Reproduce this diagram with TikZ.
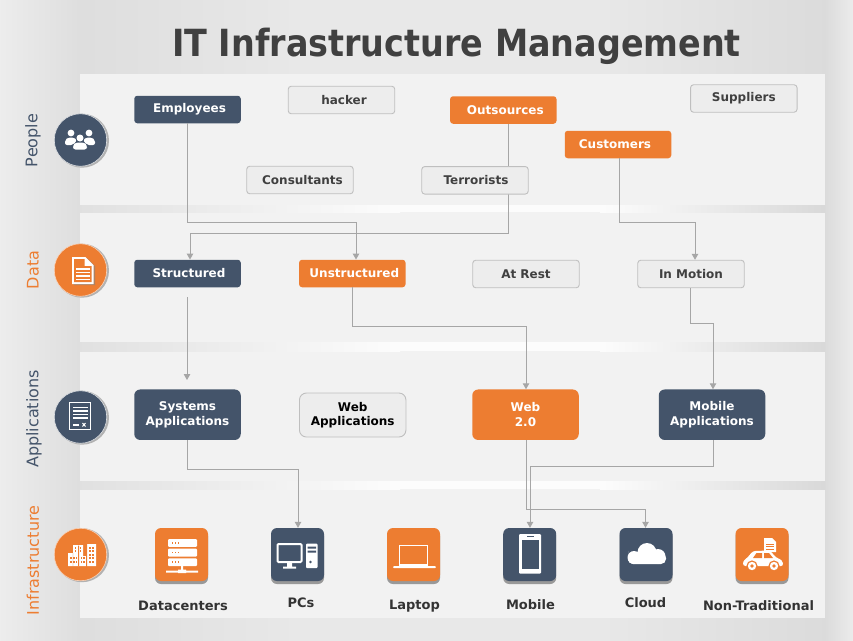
\documentclass[tikz,border=0pt]{standalone}
\usepackage{fontspec}
\setmainfont{DejaVu Sans}
\usetikzlibrary{arrows.meta}
\definecolor{navy}{HTML}{44546A}
\definecolor{tangerine}{HTML}{ED7D31}
\definecolor{panelgray}{HTML}{F2F2F2}
\definecolor{linkgray}{HTML}{A6A6A6}
\definecolor{inkgray}{HTML}{404040}
\tikzset{
  box/.style={rounded corners=3pt, minimum width=106.5pt, minimum height=27.5pt, inner sep=0pt, align=center, font=\fontsize{12}{14.5}\selectfont\bfseries},
  navybox/.style={box, fill=navy, text=white},
  orangebox/.style={box, fill=tangerine, text=white},
  graybox/.style={box, fill=white!93!black, draw=white!75!black, line width=0.9pt, text=inkgray},
  tall/.style={rounded corners=6pt, minimum height=50.5pt},
  badge/.style={circle, minimum size=52.5pt, inner sep=0pt},
  tile/.style={rounded corners=6pt, minimum size=53pt, inner sep=0pt},
  sidelabel/.style={rotate=90, font=\fontsize{16}{18}\selectfont},
  caption/.style={font=\fontsize{13}{15}\selectfont\bfseries, text=black!80},
  link/.style={draw=linkgray, line width=1pt},
  linkarrow/.style={link, -{Triangle[width=6.5pt,length=6pt]}},
  icon/.style={fill=white, draw=none},
  outline/.style={draw=white, fill=none, line width=1.6pt},
}
\begin{document}
\begin{tikzpicture}[x=1pt, y=-1pt]
  \useasboundingbox (0,0) rectangle (853,640);
  % page background, in strips
  \shade[left color=white!93!black, right color=white!87!black] (-3,-3) rectangle (80.5,643);
  \shade[left color=white!87!black, right color=white!91!black] (80,-3) rectangle (300.5,643);
  \fill[white!91!black] (300,-3) rectangle (600.5,643);
  \shade[left color=white!91!black, right color=white!86!black] (600,-3) rectangle (825.5,643);
  \shade[left color=white!86!black, right color=white!93!black] (825,-3) rectangle (856,643);
  % panels and the bands between them
  \foreach \ya/\yb in {74/205, 212/342, 351/481, 489/618}
    \fill[panelgray] (80,\ya) rectangle (825,\yb);
  \foreach \ya/\yb in {205/212, 342/351, 481/489} {
    \shade[left color=white!88!black, right color=white!99!black] (80,\ya) rectangle (400,\yb);
    \fill[white!99!black] (399,\ya) rectangle (601,\yb);
    \shade[left color=white!99!black, right color=white!85!black] (600,\ya) rectangle (825,\yb);
  }

  \node[font=\fontsize{33.4}{40}\selectfont\bfseries, text=inkgray] (title) at (456.5,46) {\scalebox{1}[1.12]{IT Infrastructure Management}};

  % side labels
  \node[sidelabel, text=navy] (peoplelabel) at (33,140.5) {People};
  \node[sidelabel, text=tangerine] (datalabel) at (33,270) {Data};
  \node[sidelabel, text=navy] (appslabel) at (34,419) {Applications};
  \node[sidelabel, text=tangerine] (infralabel) at (33,560.5) {Infrastructure};

  % round badges
  \foreach \yb in {140, 270, 417, 554.5}
    \fill[white!70!black] (82,\yb+0.7) circle (27pt);
  \node[badge, fill=navy, draw=white!80!navy, line width=0.6pt] (peoplebadge) at (80.5,140) {};
  \node[badge, fill=tangerine, draw=white!65!tangerine, line width=0.6pt] (databadge) at (80.5,270) {};
  \node[badge, fill=navy, draw=white!80!navy, line width=0.6pt] (appsbadge) at (80.5,417) {};
  \node[badge, fill=tangerine, draw=white!65!tangerine, line width=0.6pt] (infrabadge) at (80.5,554.5) {};

  % people icon
  \fill[icon] (71,133) circle (3.4pt) (89,133) circle (3.4pt);
  \fill[icon, rounded corners=2pt] (65,145) -- (65,140) -- (68,137.5) -- (74,137.5) -- (77,140) -- (73,145) -- cycle;
  \fill[icon, rounded corners=2pt] (95,145) -- (95,140) -- (92,137.5) -- (86,137.5) -- (83,140) -- (87,145) -- cycle;
  \fill[navy] (80,138) circle (4.6pt);
  \fill[icon] (80,138) circle (3.5pt);
  \fill[icon, rounded corners=2.5pt] (73,149.5) -- (73,145) -- (76,142.5) -- (84,142.5) -- (87,145) -- (87,149.5) -- cycle;

  % document icon
  \fill[white!45!tangerine!70!black] (73.5,258) -- (87,258) -- (95,266) -- (95,285) -- (73.5,285) -- cycle;
  \fill[icon] (72,257) -- (85.5,257) -- (93.5,265) -- (93.5,284) -- (72,284) -- cycle;
  \fill[tangerine] (74,259) -- (84.5,259) -- (84.5,266) -- (91.5,266) -- (91.5,282) -- (74,282) -- cycle;
  \fill[icon] (85.5,259.5) -- (91,265) -- (85.5,265) -- cycle;
  \foreach \yl in {268, 271.5, 275, 278.5}
    \fill[icon] (76,\yl) rectangle (89.5,\yl+1.8);

  % form icon
  \draw[outline] (69.5,402.5) rectangle (90.5,429.5);
  \foreach \yl in {406.5, 410, 413.5, 417}
    \fill[icon] (73,\yl) rectangle (87.5,\yl+1.6);
  \fill[icon] (73,424) rectangle (79,425.5);
  \draw[white, line width=1pt] (82.5,423) -- (85.5,426.5) (85.5,423) -- (82.5,426.5);

  % city icon
  \fill[icon] (68,566) rectangle (78,553) (73,566) rectangle (83,545) (79,566) rectangle (86,556) (87,566) rectangle (96,544);
  \fill[tangerine] (78,545.5) rectangle (79,566) (86,544) rectangle (87,566) (72.8,553) rectangle (73,566);
  \foreach \xw in {70, 73.2, 75.8, 80.5, 83, 89, 92}
    \foreach \yw in {557, 560.5}
      \fill[tangerine] (\xw,\yw) rectangle (\xw+1.5,\yw+2);
  \foreach \xw in {75.5, 80.5}
    \foreach \yw in {547, 550}
      \fill[tangerine] (\xw-1,\yw) rectangle (\xw+0.5,\yw+1.8);
  \foreach \xw in {89, 92}
    \foreach \yw in {547, 550, 553.5}
      \fill[tangerine] (\xw,\yw) rectangle (\xw+1.5,\yw+2);

  % people row
  \node[navybox] (employees) at (187.5,109.5) {\hspace*{4pt}Employees};
  \node[graybox] (hacker) at (341.5,100) {\hspace*{5pt}hacker};
  \node[graybox] (consultants) at (300,180) {\hspace*{5pt}Consultants};
  \node[orangebox] (outsources) at (503.3,110) {\hspace*{4pt}Outsources};
  \node[orangebox] (customers) at (618,144.5) {Customers\hspace*{6pt}};
  \node[graybox] (suppliers) at (743.8,98.5) {Suppliers};

  % data row
  \node[navybox] (structured) at (187.5,273.5) {\hspace*{3pt}Structured};
  \node[orangebox] (unstructured) at (352.3,273.5) {\hspace*{4pt}Unstructured};
  \node[graybox] (atrest) at (526,274) {At Rest};
  \node[graybox] (inmotion) at (691,274) {In Motion};

  % applications row
  \node[navybox, tall] (systems) at (187.5,414.7) {Systems\\Applications};
  \node[graybox, rounded corners=7pt, minimum height=44pt, text=black] (webapps) at (352.7,415) {Web\\Applications};
  \node[orangebox, tall] (webtwo) at (525.5,414.7) {Web\\2.0};
  \node[navybox, tall] (mobileapps) at (712,414.7) {Mobile\\Applications};

  % infrastructure tiles
  \foreach \xs in {181.5, 297.5, 413.5, 529.7, 646, 762}
    \fill[white!60!black, rounded corners=6pt] (\xs-26.5,530) rectangle (\xs+26.5,584);
  \node[tile, fill=tangerine] (datacenters) at (181.5,554.5) {};
  \node[tile, fill=navy] (pcs) at (297.5,554.5) {};
  \node[tile, fill=tangerine] (laptop) at (413.5,554.5) {};
  \node[tile, fill=navy] (mobile) at (529.7,554.5) {};
  \node[tile, fill=navy] (cloud) at (646,554.5) {};
  \node[tile, fill=tangerine] (vehicle) at (762,554.5) {};

  \node[caption] (datacenterstext) at (183,606) {Datacenters};
  \node[caption] (pcstext) at (301,603) {PCs};
  \node[caption] (laptoptext) at (414.5,606) {Laptop};
  \node[caption] (mobiletext) at (530.5,605) {Mobile};
  \node[caption] (cloudtext) at (645.5,603) {Cloud};
  \node[caption] (vehicletext) at (758.5,606) {Non-Traditional};

  % server icon
  \foreach \yl in {539, 548.7, 558.4} {
    \fill[icon, rounded corners=1pt] (168,\yl) rectangle (197,\yl+7.8);
    \foreach \xd in {172, 175, 178}
      \fill[tangerine] (\xd,\yl+3) rectangle (\xd+1.4,\yl+4.5);
  }
  \fill[icon] (181,566) rectangle (183,571) (166,570.5) rectangle (178,572.5) (186,570.5) rectangle (198,572.5) (178,569.5) rectangle (186,573);

  % pc icon
  \draw[white, line width=2pt, rounded corners=1pt] (277.5,544) rectangle (301.5,562);
  \fill[icon] (287,563) rectangle (292,566.5) (283,566.5) rectangle (296,568.5);
  \fill[icon, rounded corners=1pt] (306,543.5) rectangle (317.5,568);
  \fill[navy] (307.5,546.5) rectangle (316,548.5) (307.5,550.5) rectangle (316,552.5) (310.5,562) circle (1.4pt);

  % laptop icon
  \draw[white, line width=1.8pt] (399.5,545.5) rectangle (427.5,565);
  \fill[icon, rounded corners=1pt] (393,566) rectangle (436,568.2);

  % phone icon
  \fill[icon, rounded corners=1pt] (519,534) rectangle (541,573.5);
  \fill[navy] (521.5,539.5) rectangle (538.5,568.5);
  \fill[navy] (526.5,536) rectangle (533.5,537.2);

  % cloud icon
  \fill[icon, rounded corners=5pt] (628,556) -- (628,564) -- (666,564) -- (666,553) -- (628,553) -- cycle;
  \fill[icon] (634,557.5) circle (6.5pt) (647,552.5) circle (9.5pt) (658,556.5) circle (7.5pt);

  % car icon
  \fill[icon, rounded corners=2.5pt] (743,566) -- (743,561) -- (747,558) -- (753,551) -- (770,550.5) -- (776,557.5) -- (782,560) -- (783.5,566) -- cycle;
  \fill[tangerine] (753,558) -- (756.5,553) -- (762,553) -- (762,558) -- cycle;
  \fill[tangerine] (764,558) -- (764,553) -- (769,553) -- (773,558) -- cycle;
  \fill[tangerine] (752,566) circle (5.6pt) (774,566) circle (5.6pt);
  \fill[icon] (752,566) circle (4.2pt) (774,566) circle (4.2pt);
  \fill[tangerine] (752,566) circle (1.8pt) (774,566) circle (1.8pt);
  \fill[icon] (764,538) -- (772,538) -- (776,542) -- (776,552) -- (764,552) -- cycle;
  \foreach \yl in {543.5, 546, 548.5}
    \fill[tangerine] (766,\yl) rectangle (774,\yl+1);

  % connectors
  \coordinate (employeesturn) at (356,222);
  \coordinate (outsourcesturn) at (190,233);
  \coordinate (customersturn) at (695,222);
  \coordinate (structuredfoot) at (187,297);
  \coordinate (structuredend) at (187,380);
  \coordinate (unstructuredturn) at (526,326);
  \coordinate (inmotionturn) at (713,323);
  \coordinate (systemsturn) at (298,469);
  \coordinate (webtwoturn) at (645.5,509);
  \coordinate (mobileappsturn) at (530,466);

  \draw[linkarrow] (employees.south) |- (employeesturn) -- ([xshift=3.7pt]unstructured.north);
  \draw[linkarrow] ([xshift=4.7pt]outsources.south) |- (outsourcesturn) -- ([xshift=2.5pt]structured.north);
  \draw[linkarrow] ([xshift=1pt]customers.south) |- (customersturn) -- ([xshift=4pt]inmotion.north);
  \draw[linkarrow] (structuredfoot) -- (structuredend);
  \draw[linkarrow] (unstructured.south) |- (unstructuredturn) -- ([xshift=0.5pt]webtwo.north);
  \draw[linkarrow] ([xshift=-1pt]inmotion.south) |- (inmotionturn) -- ([xshift=1pt]mobileapps.north);
  \draw[linkarrow] (systems.south) |- (systemsturn) -- ([xshift=0.5pt]pcs.north);
  \draw[linkarrow] ([xshift=0.5pt]webtwo.south) |- (webtwoturn) -- ([xshift=-0.5pt]cloud.north);
  \draw[linkarrow] ([xshift=1pt]mobileapps.south) |- (mobileappsturn) -- ([xshift=0.3pt]mobile.north);

  % drawn last so that it sits over the connector
  \node[graybox] (terrorists) at (475,180.3) {\hspace*{2pt}Terrorists};
\end{tikzpicture}
\end{document}
